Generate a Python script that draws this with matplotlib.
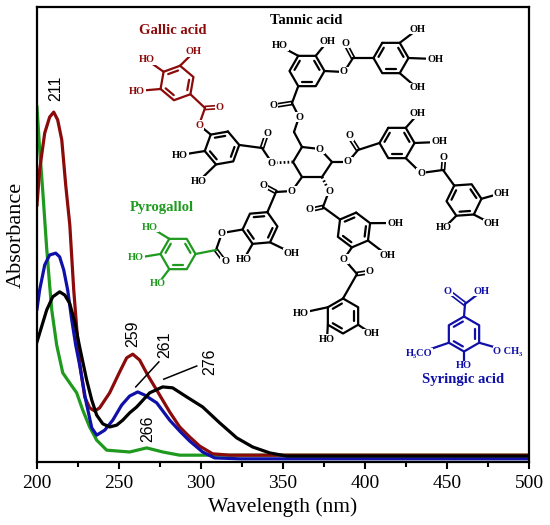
import numpy as np
import matplotlib
matplotlib.use("Agg")
import matplotlib.pyplot as plt

# ---------------- data ----------------
wl_gallic = [200, 201.6, 204.7, 207.7, 210.2, 212.6, 215.1, 217.5, 220.0, 222.4, 224.3, 226.0,
             229.1, 232.1, 235.2, 238.2, 244.3, 250.4, 254.7, 258.4, 262.6, 267.5, 273.0, 280.9,
             287.0, 293.1, 299.2, 307.1, 317.5, 500]
abs_gallic = [0.565, 0.642, 0.723, 0.758, 0.769, 0.752, 0.708, 0.609, 0.521, 0.378, 0.290, 0.218,
              0.143, 0.119, 0.112, 0.119, 0.152, 0.198, 0.229, 0.237, 0.224, 0.191, 0.158, 0.110,
              0.077, 0.055, 0.035, 0.018, 0.015, 0.015]

wl_syringic = [200, 201.6, 204.7, 207.7, 211.4, 213.8, 216.3, 218.7, 221.2, 223.6, 226.0, 229.7,
               233.4, 236.4, 241.3, 246.2, 251.6, 256.5, 261.4, 265.7, 273.0, 280.9, 287.0, 293.1,
               301.0, 308.3, 323.6, 500]
abs_syringic = [0.336, 0.378, 0.433, 0.455, 0.459, 0.451, 0.422, 0.378, 0.312, 0.257, 0.213, 0.136,
                0.075, 0.059, 0.070, 0.092, 0.125, 0.145, 0.154, 0.147, 0.130, 0.092, 0.068, 0.046,
                0.022, 0.009, 0.007, 0.007]

wl_pyrogallol = [200, 201.6, 203.5, 205.9, 207.7, 209.0, 212.0, 215.7, 219.9, 224.2, 227.9, 232.1,
                 236.4, 242.5, 256.5, 266.9, 276.7, 287.0, 500]
abs_pyrogallol = [0.780, 0.688, 0.596, 0.470, 0.389, 0.334, 0.257, 0.196, 0.174, 0.152, 0.114, 0.077,
                  0.048, 0.026, 0.022, 0.031, 0.022, 0.015, 0.015]

wl_tannic = [200, 205.9, 209.6, 213.8, 216.9, 219.9, 223.0, 226.0, 230.3, 233.4, 236.4, 240.1, 244.3,
             248.6, 252.3, 256.5, 260.8, 268.7, 276.6, 282.7, 291.3, 301.0, 311.4, 321.8, 331.5,
             341.9, 352.3, 500]
abs_tannic = [0.264, 0.334, 0.363, 0.374, 0.367, 0.349, 0.308, 0.253, 0.180, 0.136, 0.103, 0.084, 0.077,
              0.081, 0.092, 0.108, 0.121, 0.152, 0.165, 0.163, 0.143, 0.121, 0.086, 0.053, 0.033,
              0.020, 0.013, 0.013]

peak_labels = ["211", "259", "261", "276", "266"]
peak_x = [211.4, 258.4, 277.9, 305.3, 267.5]
peak_y = [0.822, 0.281, 0.257, 0.220, 0.073]
leader_x = [[260.2, 274.3], [277.3, 297.4]]
leader_y = [[0.165, 0.220], [0.182, 0.211]]

x_ticks = [200, 250, 300, 350, 400, 450, 500]

c_red = "#8b0a0a"
c_blue = "#1010a8"
c_green = "#1f9a1f"
c_black = "#000000"

# ---------------- figure ----------------
fig = plt.figure(figsize=(5.5, 5.25), dpi=100)
ax = fig.add_axes([37/550, 1-462/525, (529-37)/550, (462-7)/525])

lw = 2.3
ax.plot(wl_pyrogallol, abs_pyrogallol, color=c_green, lw=lw, solid_joinstyle="round")
ax.plot(wl_gallic, abs_gallic, color=c_red, lw=lw, solid_joinstyle="round")
ax.plot(wl_syringic, abs_syringic, color=c_blue, lw=lw, solid_joinstyle="round")
ax.plot(wl_tannic, abs_tannic, color=c_black, lw=lw, solid_joinstyle="round")

ax.set_xlim(200, 500)
ax.set_ylim(0, 1.0)
ax.set_xticks(x_ticks)
ax.set_xticks(np.arange(225, 500, 50), minor=True)
ax.set_yticks([])
ax.tick_params(axis="x", which="major", direction="out", length=5, width=1.5, pad=4,
               labelsize=14)
ax.tick_params(axis="x", which="minor", direction="out", length=3.5, width=1.5)
for lab in ax.get_xticklabels():
    lab.set_fontfamily("Liberation Serif")
for s in ax.spines.values():
    s.set_linewidth(1.6)
ax.set_xlabel("Wavelength (nm)", fontfamily="Liberation Serif", fontsize=15.5, labelpad=4)
ax.set_ylabel("Absorbance", fontfamily="Liberation Serif", fontsize=16, labelpad=8)

for t, x, y in zip(peak_labels, peak_x, peak_y):
    ax.text(x, y, t, rotation=90, ha="center", va="center", fontsize=11.5,
            fontfamily="Liberation Sans")
for xs, ys in zip(leader_x, leader_y):
    ax.plot(xs, ys, color="black", lw=1.1)

# ---------------- chemical structures (decorative overlay, pixel coords) ----------------
ov = fig.add_axes([0, 0, 1, 1], zorder=5)
ov.set_xlim(0, 550)
ov.set_ylim(525, 0)
ov.axis("off")

BLW = 1.6
R = 17.5


def hexv(cx, cy, rot):
    a = np.deg2rad(90 + rot + 60 * np.arange(6))
    return np.column_stack([cx + R * np.cos(a), cy - R * np.sin(a)])


rings = {
    "gal": (177, 83, -10, c_red),
    "a": (222, 148, -20, c_black),
    "top": (307, 71, 30, c_black),
    "topR": (391, 58, 30, c_black),
    "r1": (397, 143, 30, c_black),
    "r2": (464, 200, 34, c_black),
    "b1": (354, 230, -7, c_black),
    "b2": (343, 316, 0, c_black),
    "l1": (260, 228, -25, c_black),
    "pyr": (178, 254, 30, c_green),
    "syr": (464, 334, 0, c_blue),
}
rv = {k: hexv(cx, cy, rot) for k, (cx, cy, rot, c) in rings.items()}

for k, (cx, cy, rot, col) in rings.items():
    v = rv[k]
    P = np.vstack([v, v[:1]])
    ov.plot(P[:, 0], P[:, 1], color=col, lw=BLW, solid_joinstyle="round", solid_capstyle="round")
    cen = v.mean(0)
    for j in (0, 2, 4):
        p, q = v[j], v[(j + 1) % 6]
        p2 = p + (cen - p) * 0.25
        q2 = q + (cen - q) * 0.25
        d = q2 - p2
        p3, q3 = p2 + 0.1 * d, q2 - 0.1 * d
        ov.plot([p3[0], q3[0]], [p3[1], q3[1]], color=col, lw=BLW, solid_capstyle="round")

glu = np.array([(302, 147), (320, 149), (332, 162), (322, 177), (302, 177), (293, 162)])
G = np.vstack([glu, glu[:1]])
ov.plot(G[:, 0], G[:, 1], color="black", lw=BLW, solid_joinstyle="round")


def pt(p, other):
    if isinstance(p, str):
        v = rv[p]
        o = np.array(pt(other, p) if not isinstance(other, str) else rings[other][:2], float)
        return v[np.argmin(np.hypot(*(v - o).T))]
    return np.array(p, float)


def bond(a, b, col="black", kind="s"):
    p = pt(a, b)
    q = pt(b, a)
    if kind == "d":
        d = q - p
        n = np.array([-d[1], d[0]]) / np.hypot(*d) * 1.6
        for s in (1, -1):
            ov.plot([p[0] + s * n[0], q[0] + s * n[0]], [p[1] + s * n[1], q[1] + s * n[1]],
                    color=col, lw=1.2, solid_capstyle="round")
    elif kind == "h":
        ov.plot([p[0], q[0]], [p[1], q[1]], color=col, lw=2.0, ls=(0, (0.6, 0.8)))
    else:
        ov.plot([p[0], q[0]], [p[1], q[1]], color=col, lw=BLW, solid_capstyle="round")


def lab(t, x, y, col="black", size=7.5):
    ov.text(x, y, t, ha="center", va="center", fontsize=size, fontweight="bold", color=col,
            fontfamily=["Liberation Serif", "DejaVu Serif"], zorder=10,
            bbox=dict(boxstyle="square,pad=0.08", fc="white", ec="none"))


def sub(ring, t, x, y, col="black"):
    bond(ring, (x, y), col)
    lab(t, x, y, col)


# gallic acid unit (red)
sub("gal", "HO", 147, 60, c_red)
sub("gal", "OH", 194, 52, c_red)
sub("gal", "HO", 137, 91, c_red)
cG = (205, 108)
bond("gal", cG, c_red)
bond(cG, (220, 107), c_red, "d"); lab("O", 220, 107, c_red)
bond(cG, (199, 125), c_red); bond((199, 125), "a"); lab("O", 199, 125, c_red)

# ring a
sub("a", "HO", 180, 155)
sub("a", "HO", 199, 181)
cA = (262, 148)
bond("a", cA)
bond(cA, (267, 133), kind="d"); lab("O", 267, 133)
bond(cA, (272, 163)); bond((272, 163), tuple(glu[5]), kind="h"); lab("O", 272, 163)

# glucose ring O
lab("O", 320, 149)

# C5 branch
bond(tuple(glu[0]), (294, 132)); bond((294, 132), (299, 117)); lab("O", 299, 117)
cT = (292, 103)
bond((299, 117), cT)
bond(cT, (273, 106), kind="d"); lab("O", 273, 106)
bond(cT, "top")
sub("top", "HO", 280, 46)
sub("top", "OH", 327, 42)
bond("top", (344, 72)); lab("O", 344, 72)
cTR = (353, 58)
bond((344, 72), cTR)
bond(cTR, (345, 43), kind="d"); lab("O", 345, 43)
bond(cTR, "topR")
sub("topR", "OH", 418, 29)
sub("topR", "OH", 435, 59)
sub("topR", "OH", 417, 88)

# C1 branch
bond(tuple(glu[2]), (348, 162)); lab("O", 348, 162)
cR = (358, 150)
bond((348, 162), cR)
bond(cR, (349, 136), kind="d"); lab("O", 349, 136)
bond(cR, "r1")
sub("r1", "OH", 418, 114)
sub("r1", "OH", 439, 142)
bond("r1", (421, 173)); lab("O", 421, 173)
cR2 = (443, 170)
bond((421, 173), cR2)
bond(cR2, (444, 157), kind="d"); lab("O", 444, 157)
bond(cR2, "r2")
sub("r2", "OH", 502, 193)
sub("r2", "OH", 492, 224)
sub("r2", "HO", 444, 228)

# C2 branch
bond(tuple(glu[3]), (329, 191), kind="h"); lab("O", 329, 191)
cB = (323, 207)
bond((329, 191), cB)
bond(cB, (310, 210), kind="d"); lab("O", 310, 210)
bond(cB, "b1")
sub("b1", "OH", 395, 223)
sub("b1", "OH", 387, 255)
bond("b1", (344, 259)); lab("O", 344, 259)
cB2 = (357, 274)
bond((344, 259), cB2)
bond(cB2, (370, 272), kind="d"); lab("O", 370, 272)
bond(cB2, "b2")
sub("b2", "HO", 301, 313)
sub("b2", "HO", 327, 339)
sub("b2", "OH", 372, 334)

# C3 branch
bond(tuple(glu[4]), (292, 191)); lab("O", 292, 191)
cL = (276, 192)
bond((292, 191), cL)
bond(cL, (263, 185), kind="d"); lab("O", 263, 185)
bond(cL, "l1")
sub("l1", "HO", 244, 259)
sub("l1", "OH", 292, 253)
bond("l1", (222, 233)); lab("O", 222, 233)
cL2 = (216, 250)
bond((222, 233), cL2)
bond(cL2, (225, 262), kind="d"); lab("O", 225, 262)
bond(cL2, "pyr", c_green)

# pyrogallol (green)
sub("pyr", "HO", 150, 227, c_green)
sub("pyr", "HO", 136, 258, c_green)
sub("pyr", "HO", 158, 284, c_green)

# syringic acid (blue)
cS = (465, 304)
bond("syr", cS, c_blue)
bond(cS, (448, 291), c_blue, "d"); lab("O", 448, 291, c_blue)
bond(cS, (482, 291), c_blue); lab("OH", 482, 291, c_blue)
sub("syr", "H\u2083CO", 419, 353, c_blue)
sub("syr", "O CH\u2083", 508, 351, c_blue)
sub("syr", "HO", 464, 366, c_blue)

# names
name_kw = dict(ha="center", va="center", fontsize=10.5, fontweight="bold",
               fontfamily="Liberation Serif", zorder=10)
ov.text(173, 31, "Gallic acid", color=c_red, **name_kw)
ov.text(306, 20, "Tannic acid", color="black", **name_kw)
ov.text(162, 208, "Pyrogallol", color=c_green, **name_kw)
ov.text(463, 380, "Syringic acid", color=c_blue, **name_kw)

fig.savefig("out.png", dpi=100)
